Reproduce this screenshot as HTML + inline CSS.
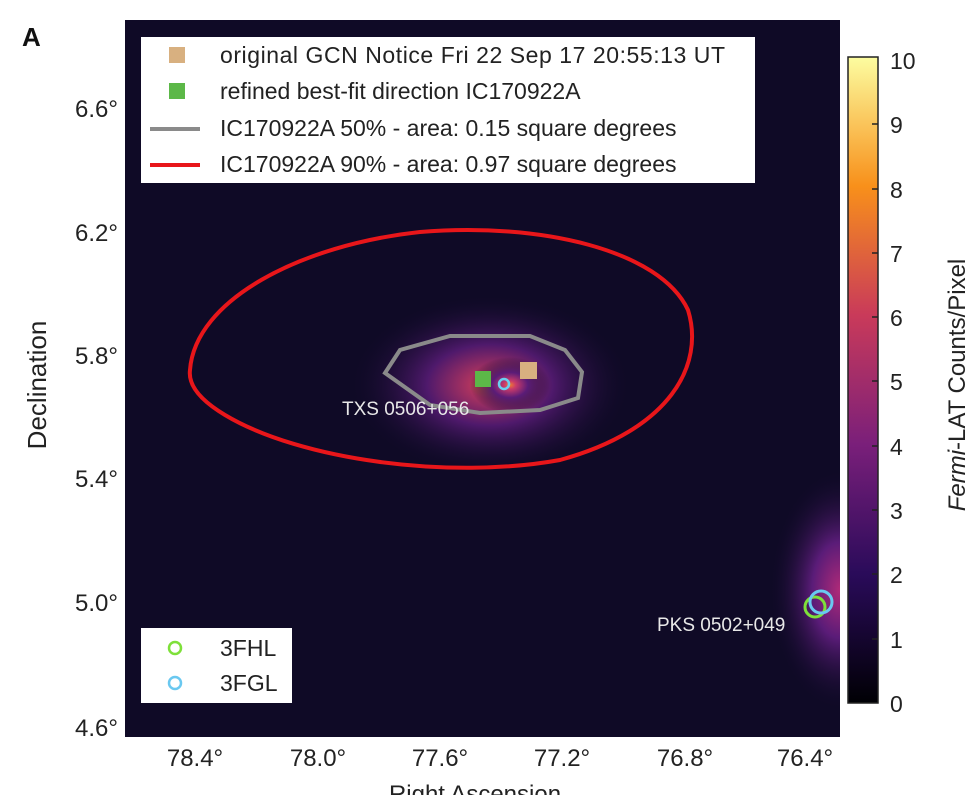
<!DOCTYPE html>
<html><head><style>
body{margin:0;background:#fff;width:980px;height:795px;overflow:hidden;font-family:"Liberation Sans",sans-serif}
</style></head><body>
<svg width="980" height="795" xmlns="http://www.w3.org/2000/svg" font-family="Liberation Sans, sans-serif">
<defs>
<clipPath id="cp"><rect x="125" y="20" width="715" height="717"/></clipPath>
<radialGradient id="g1" cx="0.5" cy="0.5" r="0.5">
<stop offset="0" stop-color="#f07a30"/><stop offset="0.15" stop-color="#c83a6a"/><stop offset="0.45" stop-color="#5a1c78"/><stop offset="1" stop-color="#120a2a" stop-opacity="0"/>
</radialGradient>
<radialGradient id="g2" cx="0.5" cy="0.5" r="0.5">
<stop offset="0" stop-color="#b02a78"/><stop offset="0.4" stop-color="#5a1c78"/><stop offset="1" stop-color="#120a2a" stop-opacity="0"/>
</radialGradient>
<linearGradient id="cb" x1="0" y1="1" x2="0" y2="0">
<stop offset="0" stop-color="#000004"/><stop offset="0.2" stop-color="#2a0b5a"/><stop offset="0.4" stop-color="#7a1f7a"/><stop offset="0.6" stop-color="#c93a5a"/><stop offset="0.8" stop-color="#f8901a"/><stop offset="1" stop-color="#fcfda0"/>
</linearGradient>
</defs>
<rect x="125" y="20" width="715" height="717" fill="#0f0a26"/>
<g clip-path="url(#cp)">
<ellipse cx="490" cy="385" rx="140" ry="90" fill="url(#g1)" opacity="0.85"/>
<ellipse cx="510" cy="385" rx="40" ry="28" fill="url(#g1)"/>
<ellipse cx="840" cy="590" rx="70" ry="120" fill="url(#g2)"/>
<path d="M190,370 C195,300 300,245 420,232 C540,222 660,250 688,310 C705,365 670,430 560,460 C450,480 300,460 225,415 C200,400 188,385 190,370 Z" fill="none" stroke="#e8161a" stroke-width="4"/>
<path d="M385,373 L400,350 L450,336 L530,336 L565,350 L582,372 L578,398 L540,410 L480,413 L430,405 Z" fill="none" stroke="#8a8a8a" stroke-width="4"/>
<rect x="475" y="371" width="16" height="16" fill="#5cb848"/>
<rect x="520" y="362" width="17" height="17" fill="#d8b080"/>
<circle cx="504" cy="384" r="5" fill="none" stroke="#6ad0f0" stroke-width="2.5"/>
<text x="342" y="415" fill="#e8e8e8" font-size="19">TXS 0506+056</text>
<circle cx="815" cy="607" r="10" fill="none" stroke="#7ee03a" stroke-width="3"/>
<circle cx="821" cy="602" r="11" fill="none" stroke="#6ac8f0" stroke-width="3"/>
<text x="657" y="631" fill="#e8e8e8" font-size="19">PKS 0502+049</text>
</g>
<rect x="141" y="37" width="614" height="146" fill="#fff"/>
<rect x="169" y="47" width="16" height="16" fill="#d8b080"/>
<rect x="169" y="83" width="16" height="16" fill="#5cb848"/>
<line x1="150" y1="129" x2="200" y2="129" stroke="#8a8a8a" stroke-width="4"/>
<line x1="150" y1="165" x2="200" y2="165" stroke="#e8161a" stroke-width="4"/>
<g font-size="23" fill="#222">
<text x="220" y="63" textLength="505">original GCN Notice Fri 22 Sep 17 20:55:13 UT</text>
<text x="220" y="99">refined best-fit direction IC170922A</text>
<text x="220" y="136">IC170922A 50% - area: 0.15 square degrees</text>
<text x="220" y="172">IC170922A 90% - area: 0.97 square degrees</text>
</g>
<rect x="141" y="628" width="151" height="75" fill="#fff"/>
<circle cx="175" cy="648" r="6" fill="none" stroke="#7ee03a" stroke-width="2.5"/>
<circle cx="175" cy="683" r="6" fill="none" stroke="#6ac8f0" stroke-width="2.5"/>
<text x="220" y="656" font-size="23" fill="#222">3FHL</text>
<text x="220" y="691" font-size="23" fill="#222">3FGL</text>
<g font-size="24" fill="#222" text-anchor="middle">
<text x="195" y="766">78.4°</text><text x="318" y="766">78.0°</text><text x="440" y="766">77.6°</text>
<text x="562" y="766">77.2°</text><text x="685" y="766">76.8°</text><text x="805" y="766">76.4°</text>
<text x="475" y="802">Right Ascension</text>
</g>
<g font-size="24" fill="#222" text-anchor="end">
<text x="118" y="117">6.6°</text><text x="118" y="241">6.2°</text><text x="118" y="364">5.8°</text>
<text x="118" y="487">5.4°</text><text x="118" y="611">5.0°</text><text x="118" y="736">4.6°</text>
</g>
<text transform="translate(46,385) rotate(-90)" font-size="26" fill="#222" text-anchor="middle">Declination</text>
<text x="22" y="46" font-size="26" font-weight="bold" fill="#111">A</text>
<rect x="848" y="57" width="30" height="646" fill="url(#cb)" stroke="#222" stroke-width="1.5"/>
<g font-size="23" fill="#222">
<text x="890" y="712">0</text><text x="890" y="648">1</text><text x="890" y="583">2</text><text x="890" y="519">3</text>
<text x="890" y="455">4</text><text x="890" y="390">5</text><text x="890" y="326">6</text><text x="890" y="262">7</text>
<text x="890" y="198">8</text><text x="890" y="133">9</text><text x="890" y="69">10</text>
</g>
<g stroke="#222" stroke-width="1.5">
<line x1="872" y1="639" x2="878" y2="639"/><line x1="872" y1="574" x2="878" y2="574"/><line x1="872" y1="510" x2="878" y2="510"/>
<line x1="872" y1="446" x2="878" y2="446"/><line x1="872" y1="381" x2="878" y2="381"/><line x1="872" y1="317" x2="878" y2="317"/>
<line x1="872" y1="253" x2="878" y2="253"/><line x1="872" y1="189" x2="878" y2="189"/><line x1="872" y1="124" x2="878" y2="124"/>
</g>
<text transform="translate(965,385) rotate(-90)" font-size="24" fill="#222" text-anchor="middle"><tspan font-style="italic">Fermi</tspan>-LAT Counts/Pixel</text>
</svg>
</body></html>
